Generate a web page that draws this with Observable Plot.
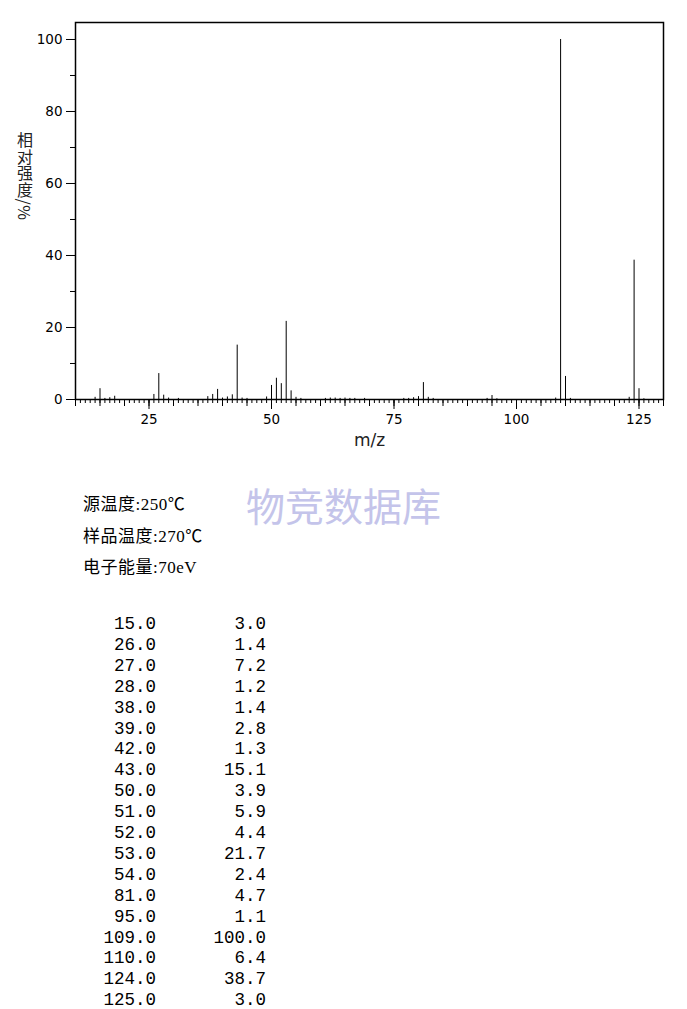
<!DOCTYPE html>
<html>
<head>
<meta charset="utf-8">
<script src="https://cdn.jsdelivr.net/npm/d3@7"></script>
<script src="https://cdn.jsdelivr.net/npm/@observablehq/plot@0.6"></script>
<style>
  html, body { margin: 0; padding: 0; background: #fff; }
  #wrap { position: relative; width: 687px; height: 1009px; overflow: hidden; }
  #chart { position: absolute; left: 0; top: 0; }
  .ylab { position: absolute; left: 16px; top: 132px; writing-mode: vertical-rl; text-orientation: mixed;
          font-family: "Noto Sans CJK SC", sans-serif; font-size: 16px; line-height: 18px; letter-spacing: 0.6px; color: #222; }
  .info { position: absolute; left: 83px; font-family: "Liberation Serif", "Noto Sans CJK SC", serif;
          font-size: 17px; line-height: 20px; letter-spacing: 0.5px; color: #000; white-space: nowrap; }
  .wm { position: absolute; left: 246px; top: 481px; font-family: "Noto Sans CJK SC", sans-serif;
        font-size: 39px; line-height: 47px; color: #c4c4ea; white-space: nowrap; }
  .row { position: absolute; left: 0; font-family: "Liberation Mono", "DejaVu Sans Mono", monospace;
         font-size: 17.5px; line-height: 20px; color: #000; white-space: pre; }
  .row span { position: absolute; top: 0; text-align: right; }
</style>
</head>
<body>
<div id="wrap">
  <div id="chart"></div>
</div>
<script>
// Listed peaks (m/z, relative intensity %)
const mz = [15, 26, 27, 28, 38, 39, 42, 43, 50, 51, 52, 53, 54, 81, 95, 109, 110, 124, 125];
const intensity = [3.0, 1.4, 7.2, 1.2, 1.4, 2.8, 1.3, 15.1, 3.9, 5.9, 4.4, 21.7, 2.4, 4.7, 1.1, 100.0, 6.4, 38.7, 3.0];
// Small unlisted peaks (estimates)
const smallMz = [14, 16, 17, 18, 29, 31, 37, 40, 41, 44, 45, 49, 55, 56, 61, 62, 63, 64, 65, 66, 67, 69, 77, 78, 79, 80, 82, 83, 94, 96, 108, 111, 123, 126];
const smallIntensity = [0.6, 0.3, 0.5, 0.9, 0.4, 0.3, 0.8, 0.4, 0.7, 0.4, 0.3, 0.7, 0.6, 0.3, 0.3, 0.4, 0.4, 0.3, 0.4, 0.3, 0.3, 0.3, 0.3, 0.3, 0.5, 0.8, 0.6, 0.3, 0.3, 0.2, 0.4, 0.3, 0.6, 0.2];
// Axis ticks
const xMajorTicks = [25, 50, 75, 100, 125];
const xMidTicks = d3.range(10, 131, 5);
const xMinorTicks = d3.range(10, 131, 1);
const yMajorTicks = [0, 20, 40, 60, 80, 100];
const yMinorTicks = [10, 30, 50, 70, 90];
// Text
const yLabel = "相对强度/%";
const xLabel = "m/z";
const infoLines = ["源温度:250℃", "样品温度:270℃", "电子能量:70eV"];
const watermark = "物竞数据库";

const peaks = mz.map((m, i) => ({mz: m, v: intensity[i]}))
  .concat(smallMz.map((m, i) => ({mz: m, v: smallIntensity[i]})));

const plot = Plot.plot({
  width: 687,
  height: 460,
  marginTop: 22,
  marginLeft: 75,
  marginRight: 24,
  marginBottom: 61,
  style: {fontFamily: "DejaVu Sans, sans-serif", fontSize: "13px", color: "#000", background: "#fff"},
  x: {domain: [10, 130]},
  y: {domain: [0, 104.72]},
  marks: [
    Plot.ruleX(peaks, {x: "mz", y1: 0, y2: "v", stroke: "#000", strokeWidth: 1}),
    Plot.axisX({ticks: xMinorTicks, tickSize: 4, tickFormat: () => "", label: null}),
    Plot.axisX({ticks: xMidTicks, tickSize: 7, tickFormat: () => "", label: null}),
    Plot.axisX({ticks: xMajorTicks, tickSize: 10, tickPadding: 5, tickFormat: d3.format("d"), label: null, fontSize: 13.5}),
    Plot.axisY({ticks: yMinorTicks, tickSize: 5, tickFormat: () => "", label: null}),
    Plot.axisY({ticks: yMajorTicks, tickSize: 9, tickPadding: 4, tickFormat: d3.format("d"), label: null, fontSize: 13.5}),
    Plot.frame({stroke: "#000", strokeWidth: 1.5}),
    Plot.text([xLabel], {text: d => d, frameAnchor: "bottom", dy: 46, fontSize: 17, fill: "#222"})
  ]
});
const wrap = document.getElementById("wrap");
document.getElementById("chart").appendChild(plot);

const yl = document.createElement("div");
yl.className = "ylab";
yl.textContent = yLabel;
wrap.appendChild(yl);

infoLines.forEach((t, i) => {
  const d = document.createElement("div");
  d.className = "info";
  d.style.top = (495 + i * 31.5) + "px";
  d.textContent = t;
  wrap.appendChild(d);
});
const wm = document.createElement("div");
wm.className = "wm";
wm.textContent = watermark;
wrap.appendChild(wm);

mz.forEach((m, i) => {
  const r = document.createElement("div");
  r.className = "row";
  r.style.top = (614 + i * 20.9) + "px";
  const a = document.createElement("span");
  a.style.left = "0px"; a.style.width = "156px";
  a.textContent = m.toFixed(1);
  const b = document.createElement("span");
  b.style.left = "0px"; b.style.width = "266px";
  b.textContent = intensity[i].toFixed(1);
  r.appendChild(a); r.appendChild(b);
  wrap.appendChild(r);
});
</script>
</body>
</html>
